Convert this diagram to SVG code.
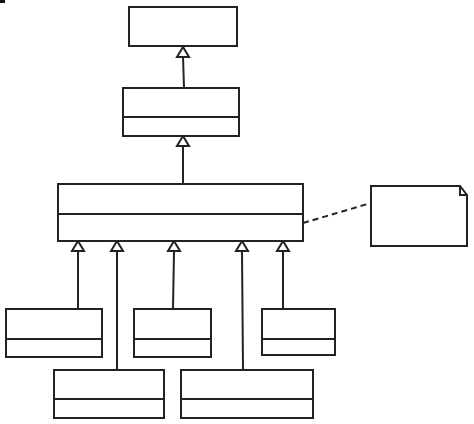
<svg xmlns="http://www.w3.org/2000/svg" width="474" height="424" viewBox="0 0 474 424">
<style>
.b{fill:#fff;stroke:#222;stroke-width:2}
.l{fill:none;stroke:#222;stroke-width:2}
.t{fill:#fff;stroke:#222;stroke-width:2;stroke-linejoin:miter}
.d{fill:none;stroke:#222;stroke-width:2;stroke-dasharray:6,4}
</style>
<rect width="474" height="424" fill="#fff"/>
<rect x="0" y="0" width="5" height="3" fill="#111"/>
<g id="connectors">
<line class="l" x1="184" y1="88" x2="183" y2="56"/>
<polygon class="t" points="183,47 177,57 189,57"/>
<line class="l" x1="183" y1="184" x2="183" y2="146"/>
<polygon class="t" points="183,136 177,146 189,146"/>
<line class="l" x1="78" y1="309" x2="78" y2="251"/>
<polygon class="t" points="78,241 72,251 84,251"/>
<line class="l" x1="117" y1="370" x2="117" y2="251"/>
<polygon class="t" points="117,241 111,251 123,251"/>
<line class="l" x1="173" y1="309" x2="174" y2="251"/>
<polygon class="t" points="174,241 168,251 180,251"/>
<line class="l" x1="243" y1="370" x2="242" y2="251"/>
<polygon class="t" points="242,241 236,251 248,251"/>
<line class="l" x1="283" y1="309" x2="283" y2="251"/>
<polygon class="t" points="283,241 277,251 289,251"/>
<line class="d" x1="303" y1="223" x2="371" y2="203"/>
</g>
<g id="n1"><rect class="b" x="129" y="7" width="108" height="39"/></g>
<g id="n2"><rect class="b" x="123" y="88" width="116" height="48"/><line class="l" x1="123" y1="117" x2="239" y2="117"/></g>
<g id="n3"><rect class="b" x="58" y="184" width="245" height="57"/><line class="l" x1="58" y1="214" x2="303" y2="214"/></g>
<g id="note"><path class="b" d="M371,186 H460 L467,195 V246 H371 Z"/><path class="l" d="M460,186 V195 H467"/></g>
<g id="a"><rect class="b" x="6" y="309" width="96" height="48"/><line class="l" x1="6" y1="339" x2="102" y2="339"/></g>
<g id="b"><rect class="b" x="134" y="309" width="77" height="48"/><line class="l" x1="134" y1="339" x2="211" y2="339"/></g>
<g id="e"><rect class="b" x="262" y="309" width="73" height="46"/><line class="l" x1="262" y1="339" x2="335" y2="339"/></g>
<g id="c"><rect class="b" x="54" y="370" width="110" height="48"/><line class="l" x1="54" y1="399" x2="164" y2="399"/></g>
<g id="d"><rect class="b" x="181" y="370" width="132" height="48"/><line class="l" x1="181" y1="399" x2="313" y2="399"/></g>
</svg>
